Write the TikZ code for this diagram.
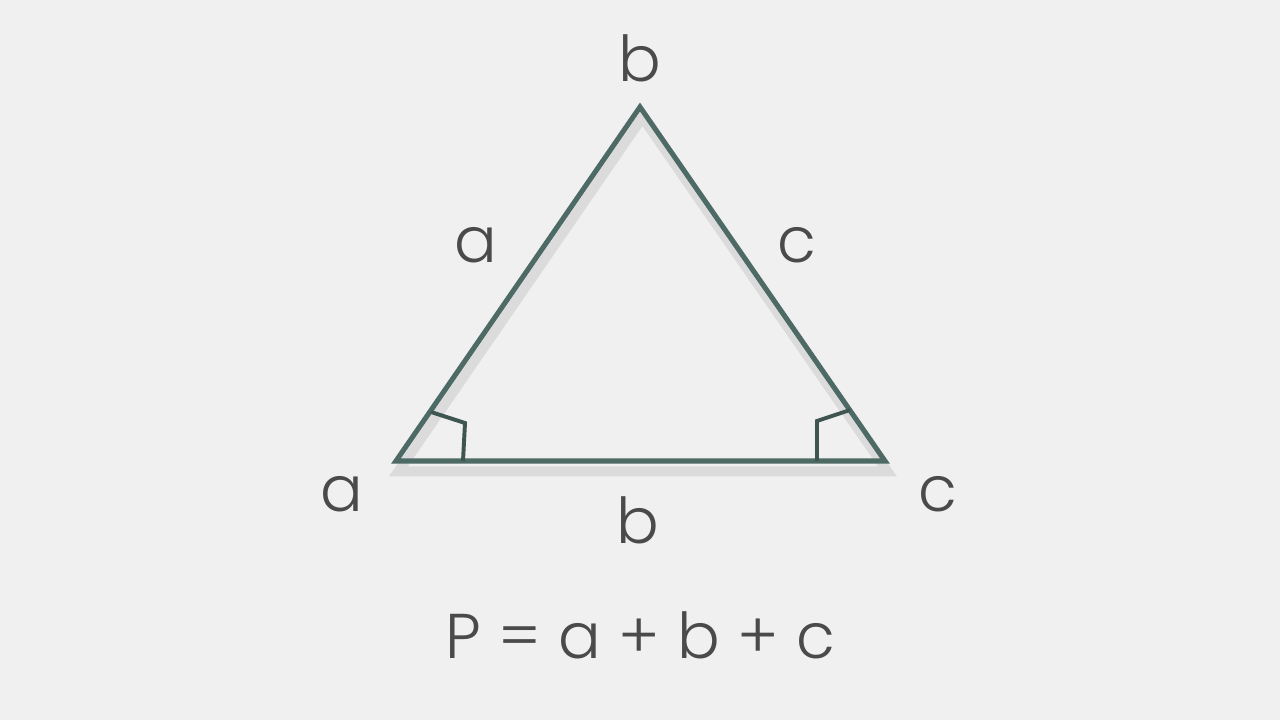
\documentclass[tikz,border=0pt]{standalone}
\usepackage{fontspec}
\setmainfont{Poppins Light}
\definecolor{bgcolor}{HTML}{F0F0F0}
\definecolor{edgecolor}{HTML}{4D6A64}
\definecolor{textcolor}{HTML}{4A4A4A}
\definecolor{shadowcolor}{HTML}{D6D6D6}
\begin{document}
\begin{tikzpicture}
            [
                x = 0.025cm, y = -0.025cm,
                every node/.style = {text=textcolor, anchor=base,
                font=\fontsize{45}{54}\selectfont},
                side/.style = {draw=edgecolor, line width=3.6pt,
                line join=miter},
                shadowline/.style = {draw=shadowcolor, line width=7pt,
                opacity=0.8},
                anglemark/.style = {draw=edgecolor!80!black, line width=2.8pt}
            ]
            \fill[bgcolor] (0,0) rectangle (1280,720);
            % corners of the triangle
            \coordinate (B) at (640,107);
            \coordinate (A) at (396,461);
            \coordinate (C) at (885,461);
            % soft shadow below the edges
            \draw[shadowline, transform canvas={yshift=-0.26cm, xshift=0.06cm}]
                (A) -- (B) -- (C) -- cycle;
            \draw[side] (A) -- (B) -- (C) -- cycle;
            % right angle marks
            \draw[anglemark] (431,412) -- (465,423) -- (463,461);
            \draw[anglemark] (850,410) -- (817,421) -- (817,461);
            % labels
            \node (lb top) at (640,82) {b};
            \node (la side) at (476,263) {a};
            \node (lc side) at (797,263) {c};
            \node (la corner) at (342,511) {a};
            \node (lb base) at (638,543) {b};
            \node (lc corner) at (938,511) {c};
            \node (perimeter) at (640,658) {P = a + b + c};
        \end{tikzpicture}
\end{document}
